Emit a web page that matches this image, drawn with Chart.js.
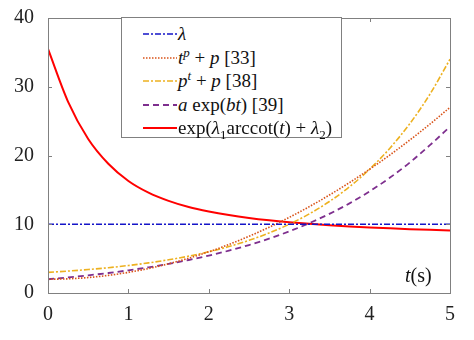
<!DOCTYPE html>
<html>
<head>
<meta charset="utf-8">
<script src="https://cdn.jsdelivr.net/npm/chart.js@4.4.1/dist/chart.umd.min.js"></script>
<style>
  html, body { margin: 0; padding: 0; background: #fff; }
  #wrap { position: relative; width: 474px; height: 340px; }
  #legend {
    position: absolute; left: 121px; top: 17px; width: 221px; height: 121px;
    border: 1px solid #808080; background: #fff; box-sizing: border-box;
    font-family: "Liberation Serif", "Times New Roman", serif; font-size: 19px; color: #111;
    padding-top: 4px;
  }
  .row { height: 23.5px; line-height: 23.5px; position: relative; white-space: nowrap; }
  .row svg { position: absolute; left: 21px; top: 10px; }
  .row span { position: absolute; left: 56px; }
  sup, sub { font-size: 13px; line-height: 0; }
  #tlabel {
    position: absolute; left: 405px; top: 264px;
    font-family: "Liberation Serif", "Times New Roman", serif; font-size: 20px; color: #111;
  }
</style>
</head>
<body>
<div id="wrap">
  <canvas id="grafico" width="474" height="340"></canvas>
  <div id="legend">
    <div class="row"><svg width="34" height="4"><line x1="0" y1="2" x2="34" y2="2" stroke="#1515c8" stroke-width="1.6" stroke-dasharray="6,2,2,2"/></svg><span><i>λ</i></span></div>
    <div class="row"><svg width="34" height="4"><line x1="0" y1="2" x2="34" y2="2" stroke="#d95319" stroke-width="1.6" stroke-dasharray="1.5,1.5"/></svg><span><i>t</i><sup><i>p</i></sup> + <i>p</i> [33]</span></div>
    <div class="row"><svg width="34" height="4"><line x1="0" y1="2" x2="34" y2="2" stroke="#edb120" stroke-width="1.6" stroke-dasharray="6,2,2,2"/></svg><span><i>p</i><sup><i>t</i></sup> + <i>p</i> [38]</span></div>
    <div class="row"><svg width="34" height="4"><line x1="0" y1="2" x2="34" y2="2" stroke="#7e2f8e" stroke-width="1.8" stroke-dasharray="6,4"/></svg><span><i>a</i> exp(<i>bt</i>) [39]</span></div>
    <div class="row"><svg width="34" height="4"><line x1="0" y1="2" x2="34" y2="2" stroke="#ff0000" stroke-width="2"/></svg><span>exp(<i>λ</i><sub>1</sub>arccot(<i>t</i>) + <i>λ</i><sub>2</sub>)</span></div>
  </div>
  <div id="tlabel"><i>t</i>(s)</div>
</div>
<script>
const tempos = [0, 0.25, 0.5, 0.75, 1, 1.25, 1.5, 1.75, 2, 2.25, 2.5, 2.75, 3, 3.25, 3.5, 3.75, 4, 4.25, 4.5, 4.75, 5];
const lambda = [10, 10, 10, 10, 10, 10, 10, 10, 10, 10, 10, 10, 10, 10, 10, 10, 10, 10, 10, 10, 10];
const ref33 = [2, 2.06, 2.25, 2.56, 3, 3.56, 4.25, 5.06, 6, 7.06, 8.25, 9.56, 11, 12.56, 14.25, 16.06, 18, 20.06, 22.25, 24.56, 27];
const ref38 = [3, 3.19, 3.41, 3.68, 4, 4.38, 4.83, 5.36, 6, 6.76, 7.66, 8.73, 10, 11.51, 13.31, 15.45, 18, 21.03, 24.63, 28.91, 34];
const ref39 = [2, 2.27, 2.57, 2.91, 3.3, 3.74, 4.23, 4.8, 5.44, 6.16, 6.98, 7.91, 8.96, 10.16, 11.51, 13.04, 14.78, 16.75, 18.98, 21.5, 24.2];
const arccot = [35.5, 27.8, 22.4, 18.8, 16.3, 14.6, 13.4, 12.5, 11.85, 11.33, 10.91, 10.57, 10.29, 10.06, 9.86, 9.69, 9.54, 9.41, 9.29, 9.19, 9.1];
const xTicks = [0, 1, 2, 3, 4, 5];
const yTicks = [0, 10, 20, 30, 40];

const pontos = (valores) => tempos.map((t, i) => ({ x: t, y: valores[i] }));

const serie = (label, valores, cor, dash, largura) => ({
    label: label,
    data: pontos(valores),
    borderColor: cor,
    backgroundColor: cor,
    borderDash: dash,
    borderWidth: largura,
    pointRadius: 0,
    fill: false,
    cubicInterpolationMode: 'monotone'
});

// caixa e ticks para dentro, estilo matlab
const caixa = {
    id: 'caixa',
    afterDraw(chart) {
        const { ctx, chartArea: a, scales } = chart;
        ctx.save();
        ctx.strokeStyle = '#808080';
        ctx.lineWidth = 1;
        ctx.strokeRect(a.left + 0.5, a.top + 0.5, a.right - a.left, a.bottom - a.top);
        ctx.beginPath();
        xTicks.forEach(v => {
            const px = Math.round(scales.x.getPixelForValue(v)) + 0.5;
            ctx.moveTo(px, a.bottom); ctx.lineTo(px, a.bottom - 4);
            ctx.moveTo(px, a.top); ctx.lineTo(px, a.top + 4);
        });
        yTicks.forEach(v => {
            const py = Math.round(scales.y.getPixelForValue(v)) + 0.5;
            ctx.moveTo(a.left, py); ctx.lineTo(a.left + 4, py);
            ctx.moveTo(a.right, py); ctx.lineTo(a.right - 4, py);
        });
        ctx.stroke();
        ctx.restore();
    }
};

const fonte = { family: '"Liberation Serif", "Times New Roman", serif', size: 20 };

new Chart(document.getElementById('grafico'), {
    type: 'line',
    data: {
        datasets: [
            serie('λ', lambda, '#1515c8', [6, 2, 2, 2], 1.6),
            serie('t^p + p [33]', ref33, '#d95319', [1.5, 1.5], 1.6),
            serie('p^t + p [38]', ref38, '#edb120', [6, 2, 2, 2], 1.6),
            serie('a exp(bt) [39]', ref39, '#7e2f8e', [6, 4], 1.8),
            serie('exp(λ1 arccot(t) + λ2)', arccot, '#ff0000', [], 2)
        ]
    },
    options: {
        responsive: false,
        animation: false,
        layout: { padding: { top: 7, right: 24, bottom: 0, left: 0 } },
        plugins: { legend: { display: false }, tooltip: { enabled: false } },
        scales: {
            x: {
                type: 'linear', min: 0, max: 5,
                grid: { display: false },
                border: { display: false },
                ticks: { stepSize: 1, font: fonte, color: '#222', padding: 2, maxRotation: 0 },
                afterFit: (s) => { s.height = 47; }
            },
            y: {
                min: 0, max: 40,
                grid: { display: false },
                border: { display: false },
                ticks: { stepSize: 10, font: fonte, color: '#222', padding: 6 },
                afterFit: (s) => { s.width = 48; }
            }
        }
    },
    plugins: [caixa]
});
</script>
</body>
</html>
